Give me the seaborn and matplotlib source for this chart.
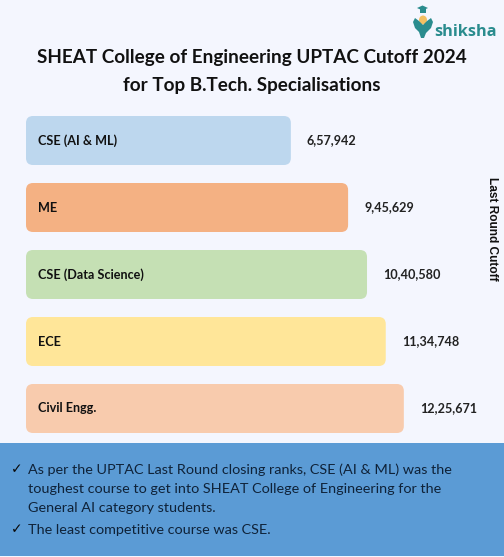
import matplotlib
matplotlib.use("Agg")
import matplotlib.pyplot as plt
from matplotlib.patches import FancyBboxPatch, Rectangle, Polygon, Ellipse
import pandas as pd
import seaborn as sns

W, H = 504, 557

courses = ["CSE (AI & ML)", "ME", "CSE (Data Science)", "ECE", "Civil Engg."]
cutoffs = [657942, 945629, 1040580, 1134748, 1225671]
cutoff_labels = ["6,57,942", "9,45,629", "10,40,580", "11,34,748", "12,25,671"]
bar_colors = ["#bdd7ee", "#f4b183", "#c5e0b4", "#ffe699", "#f8cbad"]

title_lines = ["SHEAT College of Engineering UPTAC Cutoff 2024",
               "for Top B.Tech. Specialisations"]
note_lines = ["As per the UPTAC Last Round closing ranks, CSE (AI & ML) was the",
              "toughest course to get into SHEAT College of Engineering for the",
              "General AI category students.",
              "The least competitive course was CSE."]

BG = "#f4f6fe"
PANEL = "#5b9bd5"
NAVY = "#0f2238"
TEAL = "#2a8c8e"

sns.set_theme(style="white")
plt.rcParams["font.family"] = ["Lato", "DejaVu Sans"]

fig = plt.figure(figsize=(W / 100, H / 100), dpi=100, facecolor=BG)


def fx(px):
    return px / W


def fy(py):
    return 1 - py / H


# Axes spans the five category slots, 67 px each; value axis does not start at zero
PX_PER_UNIT = 1.99e-4
X_MIN = -673000
ax = fig.add_axes([fx(26), fy(442), fx(W - 26), 335 / H])
ax.patch.set_alpha(0)
df = pd.DataFrame({"course": courses, "cutoff": cutoffs})
sns.barplot(data=df, x="cutoff", y="course", hue="course", palette=bar_colors,
            width=49 / 67, legend=False, ax=ax, saturation=1)
ax.set_xlim(X_MIN, X_MIN + (W - 26) / PX_PER_UNIT)
ax.set_ylim(4.5, -0.5)
ax.set_xlabel("")
ax.set_ylabel("")
ax.set_xticks([])
ax.set_yticks([])
sns.despine(ax=ax, left=True, bottom=True)

# Swap the square bars for rounded ones that run from the left edge of the axes
radius_px = 7
units_per_px = 1 / PX_PER_UNIT
for patch, color, label, course in zip(list(ax.patches), bar_colors, cutoff_labels, courses):
    y0, h, value = patch.get_y(), patch.get_height(), patch.get_width()
    patch.remove()
    ax.add_patch(FancyBboxPatch(
        (X_MIN, y0), value - X_MIN, h,
        boxstyle=f"round,pad=0,rounding_size={radius_px * units_per_px}",
        mutation_aspect=(1 / 67) / units_per_px,
        facecolor=color, edgecolor="none", clip_on=False))
    ax.text(X_MIN + 12 * units_per_px, y0 + h / 2, course, ha="left", va="center",
            fontsize=9.1, fontweight="bold", color="#111111")
    ax.text(value + 16 * units_per_px, y0 + h / 2, label, ha="left", va="center",
            fontsize=9.1, fontweight="bold", color="#222222")

# Title
for line, py in zip(title_lines, [58, 85]):
    fig.text(fx(252), fy(py), line, ha="center", va="center",
             fontsize=13.6, fontweight="bold", color="#111111")

# Rotated axis caption on the right
fig.text(fx(492), fy(228.5), "Last Round Cutoff", rotation=270, ha="center", va="center",
         fontsize=8.6, fontweight="bold", family="Liberation Sans", color="#111111")

# Notes panel
fig.add_artist(Rectangle((0, fy(556)), 1, 113 / H, transform=fig.transFigure,
                         facecolor=PANEL, edgecolor="none"))
for line, py in zip(note_lines, [470, 489, 508, 530]):
    fig.text(fx(28), fy(py), line, ha="left", va="center", fontsize=10.35, color=NAVY)
for py in [469, 529]:
    fig.text(fx(17), fy(py), "\u2713", ha="center", va="center", fontsize=10,
             fontweight="bold", family="DejaVu Sans", color="#0a0a0a")

# Brand mark and wordmark
fig.add_artist(Polygon([(fx(417), fy(8)), (fx(422.5), fy(5.5)), (fx(428), fy(8)), (fx(422.5), fy(10.5))],
                       transform=fig.transFigure, facecolor=TEAL, edgecolor="none"))
fig.add_artist(Rectangle((fx(419.5), fy(12.5)), 6 / W, 3.5 / H, transform=fig.transFigure,
                         facecolor=TEAL, edgecolor="none"))
fig.add_artist(Polygon([(fx(413), fy(22)), (fx(415), fy(18)), (fx(419), fy(21)), (fx(423), fy(25)),
                        (fx(427), fy(21)), (fx(431), fy(18)), (fx(433), fy(22)), (fx(431), fy(28)),
                        (fx(426), fy(33)), (fx(424), fy(38)), (fx(421), fy(38)), (fx(419), fy(32)),
                        (fx(415), fy(28))],
                       transform=fig.transFigure, facecolor=TEAL, edgecolor="none"))
fig.add_artist(Ellipse((fx(423), fy(20)), 8 / W, 9 / H, transform=fig.transFigure,
                       facecolor="#f2c063", edgecolor="none", zorder=0.5))
fig.text(fx(434.5), fy(31.5), "shiksha", ha="left", va="center", fontsize=11.7,
         fontweight="bold", family="Open Sans", color=TEAL)

fig.savefig("out.png", dpi=100, facecolor=BG)
